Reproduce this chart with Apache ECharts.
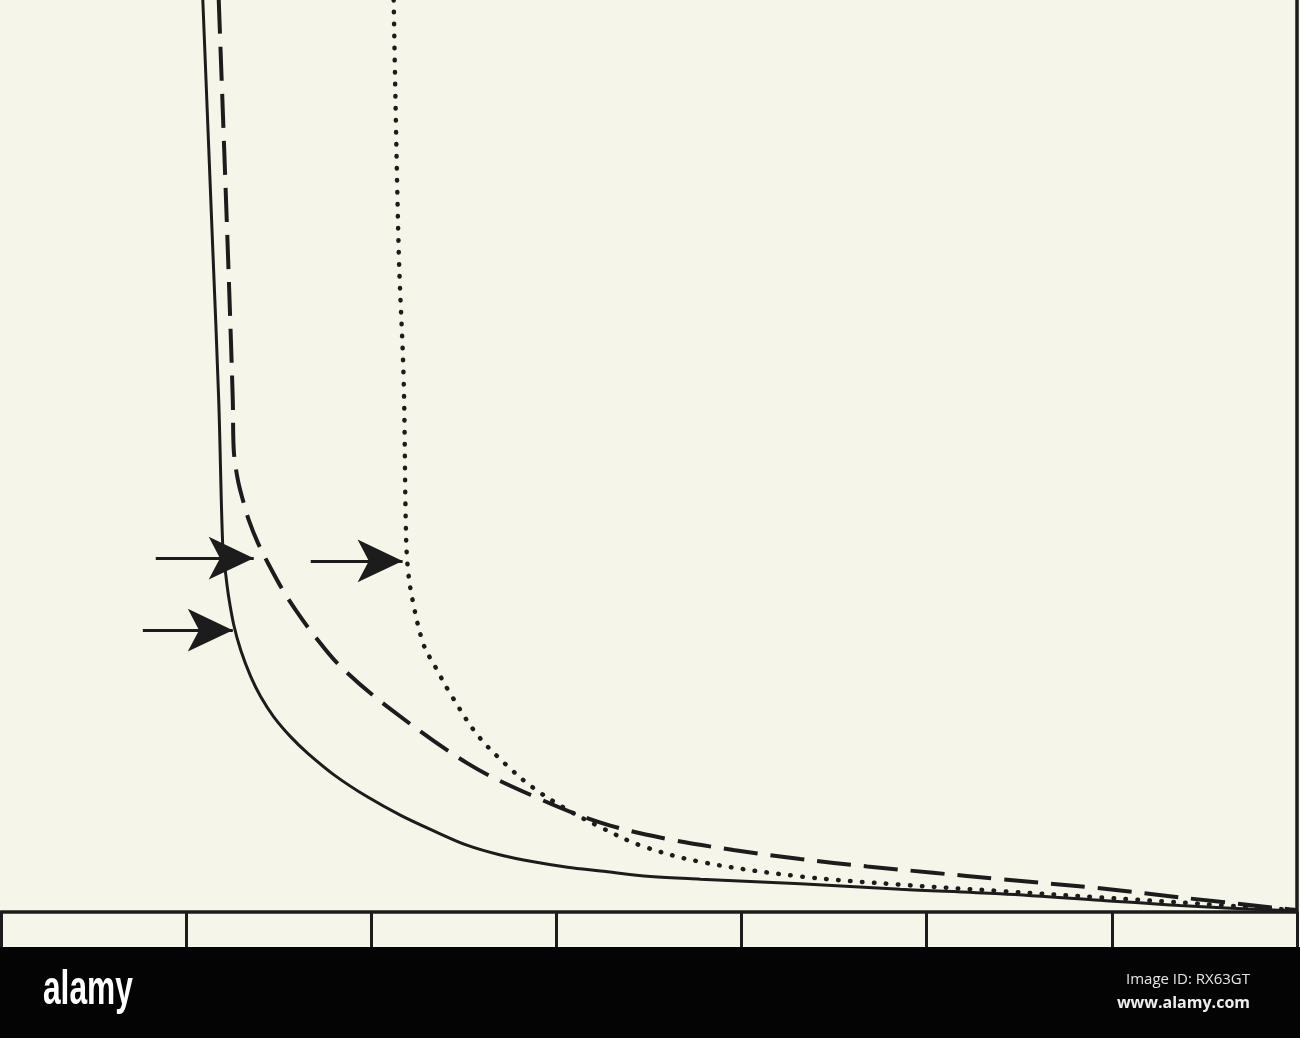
<!DOCTYPE html>
<html>
<head>
<meta charset="utf-8">
<script src="https://cdn.jsdelivr.net/npm/echarts@6/dist/echarts.min.js"></script>
<style>
html,body{margin:0;padding:0;background:#f5f5ea;}
#chart{width:1300px;height:1038px;}
</style>
</head>
<body>
<div id="chart"></div>
<script>
// x in axis-tick units (0..7), y in percent of plot height (0..100)
var xTicks = [0, 1, 2, 3, 4, 5, 6, 7];
var solidCurve = [
  [1.090,100],[1.144,72.6],[1.176,56.1],[1.198,40.0],[1.214,37.0],[1.230,34.5],
  [1.257,31.5],[1.295,28.7],[1.349,25.8],[1.403,23.6],[1.473,21.4],[1.565,19.2],
  [1.657,17.4],[1.808,14.9],[1.981,12.6],[2.159,10.6],[2.337,8.9],[2.520,7.3],
  [2.698,6.25],[2.876,5.5],[3.060,4.9],[3.238,4.5],[3.508,3.9],[3.778,3.6],
  [4.317,3.1],[4.857,2.5],[5.397,2.0],[5.936,1.3],[6.368,0.7],[7.0,0.1]
];
var dashedCurve = [
  [1.176,100],[1.225,72.6],[1.252,56.1],[1.257,50.7],[1.279,47.4],[1.306,45.2],
  [1.338,43.0],[1.387,40.5],[1.441,38.3],[1.522,35.3],[1.592,33.1],[1.689,30.4],
  [1.835,26.9],[2.088,22.5],[2.520,16.3],[2.876,12.7],[3.238,9.8],[3.600,8.0],
  [3.956,6.8],[4.317,5.8],[4.679,5.0],[5.035,4.3],[5.397,3.6],[5.936,2.6],
  [6.368,1.6],[7.0,0.2]
];
var dottedCurve = [
  [2.121,100],[2.148,72.6],[2.175,58.3],[2.186,43.0],[2.196,38.0],[2.223,34.2],
  [2.283,29.3],[2.348,26.8],[2.428,23.9],[2.574,19.4],[2.736,16.0],[2.876,13.6],
  [3.060,11.2],[3.238,9.3],[3.454,7.3],[3.778,5.5],[4.317,3.9],[4.857,3.0],
  [5.397,2.3],[5.936,1.6],[6.476,0.9],[7.0,0.2]
];
// arrows: [fromX, toX, y]
var arrows = [
  [0.836, 1.365, 38.8],
  [0.766, 1.252, 30.9],
  [1.673, 2.169, 38.5]
];

var ink = '#1c1c1c';
var chart = echarts.init(document.getElementById('chart'));
chart.setOption({
  backgroundColor: '#f5f5ea',
  animation: false,
  grid: {left: 1, right: 3, top: 0, bottom: 126},
  xAxis: {
    type: 'value', min: xTicks[0], max: xTicks[xTicks.length-1], interval: 1,
    axisLine: {show: true, onZero: false, lineStyle: {color: ink, width: 3.5}},
    axisTick: {show: true, inside: false, length: 35, lineStyle: {color: ink, width: 3}},
    axisLabel: {show: false},
    splitLine: {show: false}
  },
  yAxis: {
    type: 'value', min: 0, max: 100, position: 'right',
    axisLine: {show: true, onZero: false, lineStyle: {color: ink, width: 3.5}},
    axisTick: {show: false}, axisLabel: {show: false}, splitLine: {show: false}
  },
  series: [
    {
      type: 'line', data: solidCurve, smooth: 0.35, symbol: 'none', silent: true,
      lineStyle: {color: ink, width: 3, type: 'solid'},
      markLine: {
        silent: true, symbol: ['none', 'arrow'], symbolSize: [32, 45],
        label: {show: false},
        lineStyle: {color: ink, width: 3, type: 'solid'},
        data: arrows.map(function (a) { return [{coord: [a[0], a[2]]}, {coord: [a[1], a[2]]}]; })
      }
    },
    {
      type: 'line', data: dashedCurve, smooth: 0.35, symbol: 'none', silent: true,
      lineStyle: {color: ink, width: 4, type: [34, 13]}
    },
    {
      type: 'line', data: dottedCurve, smooth: 0.35, symbol: 'none', silent: true,
      lineStyle: {color: ink, width: 4.5, type: [0.5, 11.5], cap: 'round'}
    }
  ],
  graphic: [
    {type: 'rect', left: 0, top: 947, z: 100, shape: {width: 1300, height: 91}, style: {fill: '#040404'}},
    {type: 'text', x: 43, y: 991, z: 101, scaleX: 0.66, scaleY: 1.0,
     style: {text: 'alamy', x: 0, y: 0, fill: '#ffffff', font: 'bold 48px "Liberation Sans", sans-serif', verticalAlign: 'middle', align: 'left'}},
    {type: 'text', x: 1250, y: 980, z: 101,
     style: {text: 'Image ID: RX63GT', fill: '#e6e6e6', font: '15px "Open Sans", "Noto Sans", sans-serif', align: 'right', verticalAlign: 'middle'}},
    {type: 'text', x: 1250, y: 1003, z: 101,
     style: {text: 'www.alamy.com', fill: '#eeeeee', font: 'bold 16px "Open Sans", "Noto Sans", sans-serif', align: 'right', verticalAlign: 'middle'}}
  ]
});
</script>
</body>
</html>
